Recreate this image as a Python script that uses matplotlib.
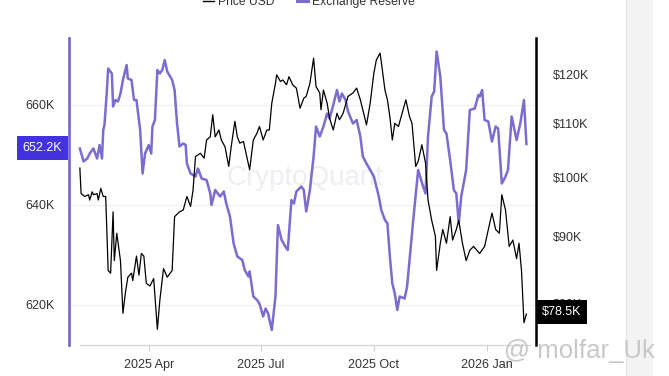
import matplotlib
matplotlib.use("Agg")
import matplotlib.pyplot as plt
import matplotlib.dates as mdates
from matplotlib.lines import Line2D
from matplotlib.patches import Rectangle
from matplotlib.ticker import FixedLocator, FixedFormatter, NullLocator
import pandas as pd

plt.rcParams['font.family'] = ['Liberation Sans', 'DejaVu Sans']

# ---------------- data ----------------
reserve_dates = [
    "2025-02-04", "2025-02-07", "2025-02-10", "2025-02-12", "2025-02-15", "2025-02-18", "2025-02-20",
    "2025-02-22", "2025-02-23", "2025-02-24", "2025-02-26", "2025-02-27", "2025-03-02", "2025-03-03",
    "2025-03-05", "2025-03-07", "2025-03-09", "2025-03-11", "2025-03-14", "2025-03-15", "2025-03-18",
    "2025-03-20", "2025-03-22", "2025-03-25", "2025-03-27", "2025-03-29", "2025-04-01", "2025-04-03",
    "2025-04-04", "2025-04-06", "2025-04-08", "2025-04-10", "2025-04-12", "2025-04-14", "2025-04-16",
    "2025-04-20", "2025-04-22", "2025-04-24", "2025-04-26", "2025-04-29", "2025-05-01", "2025-05-02",
    "2025-05-05", "2025-05-09", "2025-05-11", "2025-05-14", "2025-05-18", "2025-05-21", "2025-05-22",
    "2025-05-25", "2025-05-29", "2025-06-01", "2025-06-03", "2025-06-06", "2025-06-09", "2025-06-12",
    "2025-06-16", "2025-06-18", "2025-06-21", "2025-06-22", "2025-06-25", "2025-06-28", "2025-06-30",
    "2025-07-03", "2025-07-05", "2025-07-07", "2025-07-10", "2025-07-13", "2025-07-15", "2025-07-18",
    "2025-07-21", "2025-07-23", "2025-07-26", "2025-07-28", "2025-07-30", "2025-08-03", "2025-08-05",
    "2025-08-07", "2025-08-10", "2025-08-13", "2025-08-15", "2025-08-18", "2025-08-21", "2025-08-24",
    "2025-08-26", "2025-08-29", "2025-09-01", "2025-09-03", "2025-09-05", "2025-09-08", "2025-09-10",
    "2025-09-14", "2025-09-17", "2025-09-20", "2025-09-22", "2025-09-25", "2025-09-28", "2025-10-01",
    "2025-10-03", "2025-10-05", "2025-10-07", "2025-10-10", "2025-10-12", "2025-10-14", "2025-10-16",
    "2025-10-18", "2025-10-20", "2025-10-22", "2025-10-26", "2025-10-28", "2025-10-31", "2025-11-02",
    "2025-11-06", "2025-11-10", "2025-11-12", "2025-11-14", "2025-11-17", "2025-11-19", "2025-11-21",
    "2025-11-24", "2025-11-27", "2025-11-29", "2025-12-02", "2025-12-05", "2025-12-07", "2025-12-09",
    "2025-12-11", "2025-12-15", "2025-12-18", "2025-12-22", "2025-12-25", "2025-12-26", "2025-12-28",
    "2025-12-30", "2026-01-02", "2026-01-05", "2026-01-08", "2026-01-10", "2026-01-13", "2026-01-16",
    "2026-01-18", "2026-01-21", "2026-01-25", "2026-01-28", "2026-01-31", "2026-02-02",
]
reserve_k = [
    651.3, 648.7, 649.3, 650.3, 651.3, 649.3, 652.0,
    649.3, 655.0, 656.0, 663.0, 667.3, 666.3, 659.7,
    661.0, 660.7, 662.3, 665.0, 668.0, 665.3, 665.0,
    661.0, 661.0, 655.0, 646.3, 650.3, 652.0, 650.3,
    655.7, 657.0, 667.0, 666.3, 667.0, 669.0, 666.7,
    665.0, 663.0, 656.3, 651.7, 652.3, 652.0, 648.3,
    646.3, 645.7, 647.3, 645.3, 645.0, 642.3, 640.0,
    643.0, 641.7, 642.7, 640.3, 637.7, 632.3, 629.7,
    629.0, 627.0, 625.7, 626.7, 621.7, 621.0, 620.3,
    617.7, 619.3, 618.3, 615.0, 621.7, 636.0, 633.0,
    631.7, 631.0, 641.0, 640.3, 642.7, 643.7, 643.0,
    638.7, 643.0, 649.7, 655.7, 653.7, 655.7, 658.3,
    657.3, 660.0, 663.0, 660.7, 662.3, 661.0, 658.7,
    656.3, 657.0, 653.7, 649.7, 648.3, 647.0, 645.7,
    643.7, 641.7, 639.0, 637.0, 636.3, 629.7, 624.3,
    622.3, 619.0, 621.7, 621.3, 623.7, 631.7, 637.0,
    647.0, 643.7, 642.3, 653.7, 661.7, 662.7, 670.7,
    665.7, 655.0, 654.3, 649.0, 643.0, 642.3, 636.3,
    641.7, 647.0, 659.0, 659.3, 662.0, 661.7, 663.0,
    657.0, 656.7, 652.7, 655.7, 655.3, 644.3, 645.7,
    647.0, 657.7, 653.0, 656.3, 661.0, 652.2,
]

price_dates = [
    "2025-02-04", "2025-02-05", "2025-02-08", "2025-02-11", "2025-02-12", "2025-02-14", "2025-02-15",
    "2025-02-18", "2025-02-19", "2025-02-21", "2025-02-23", "2025-02-25", "2025-02-27", "2025-03-01",
    "2025-03-03", "2025-03-04", "2025-03-06", "2025-03-09", "2025-03-11", "2025-03-13", "2025-03-15",
    "2025-03-18", "2025-03-19", "2025-03-22", "2025-03-24", "2025-03-26", "2025-03-28", "2025-03-30",
    "2025-04-02", "2025-04-05", "2025-04-07", "2025-04-08", "2025-04-10", "2025-04-13", "2025-04-16",
    "2025-04-20", "2025-04-22", "2025-04-26", "2025-04-29", "2025-05-02", "2025-05-05", "2025-05-07",
    "2025-05-09", "2025-05-13", "2025-05-16", "2025-05-18", "2025-05-21", "2025-05-23", "2025-05-25",
    "2025-05-28", "2025-05-30", "2025-06-02", "2025-06-05", "2025-06-07", "2025-06-10", "2025-06-12",
    "2025-06-14", "2025-06-17", "2025-06-20", "2025-06-22", "2025-06-25", "2025-06-28", "2025-06-30",
    "2025-07-03", "2025-07-06", "2025-07-08", "2025-07-10", "2025-07-13", "2025-07-14", "2025-07-17",
    "2025-07-19", "2025-07-22", "2025-07-24", "2025-07-27", "2025-07-30", "2025-08-02", "2025-08-05",
    "2025-08-07", "2025-08-10", "2025-08-13", "2025-08-15", "2025-08-18", "2025-08-19", "2025-08-21",
    "2025-08-24", "2025-08-26", "2025-08-29", "2025-09-01", "2025-09-03", "2025-09-06", "2025-09-10",
    "2025-09-14", "2025-09-17", "2025-09-20", "2025-09-22", "2025-09-25", "2025-09-28", "2025-10-01",
    "2025-10-03", "2025-10-06", "2025-10-07", "2025-10-10", "2025-10-12", "2025-10-14", "2025-10-16",
    "2025-10-18", "2025-10-21", "2025-10-24", "2025-10-27", "2025-10-30", "2025-11-01", "2025-11-04",
    "2025-11-06", "2025-11-09", "2025-11-12", "2025-11-14", "2025-11-17", "2025-11-20", "2025-11-21",
    "2025-11-24", "2025-11-26", "2025-11-29", "2025-12-02", "2025-12-04", "2025-12-07", "2025-12-09",
    "2025-12-12", "2025-12-15", "2025-12-18", "2025-12-21", "2025-12-26", "2025-12-30", "2026-01-02",
    "2026-01-05", "2026-01-08", "2026-01-11", "2026-01-13", "2026-01-16", "2026-01-19", "2026-01-22",
    "2026-01-25", "2026-01-27", "2026-01-29", "2026-01-31", "2026-02-02",
]
price_k = [
    101.7, 97.2, 96.7, 97.0, 96.1, 97.5, 97.0,
    97.2, 96.1, 98.1, 96.7, 96.7, 84.8, 84.4,
    94.1, 86.3, 90.6, 86.3, 78.6, 81.5, 83.8,
    84.4, 83.3, 87.0, 84.1, 87.4, 87.0, 82.9,
    82.5, 83.6, 78.6, 76.4, 80.4, 85.1, 83.8,
    84.8, 93.3, 94.1, 94.4, 96.7, 95.0, 97.8,
    103.8, 104.4, 103.5, 106.9, 107.5, 111.8, 107.5,
    108.8, 106.9, 105.6, 102.0, 105.6, 110.5, 107.5,
    106.3, 106.6, 103.5, 101.4, 106.9, 108.2, 109.5,
    106.9, 108.8, 108.8, 114.1, 118.2, 120.0, 118.6,
    118.9, 117.9, 119.6, 117.9, 117.2, 113.1, 115.1,
    115.5, 118.2, 123.6, 117.5, 116.2, 112.8, 116.8,
    114.1, 111.1, 108.8, 112.1, 110.8, 112.1, 115.5,
    116.2, 117.2, 114.8, 112.8, 109.8, 114.1, 120.4,
    123.2, 124.7, 122.9, 116.8, 114.8, 111.4, 106.9,
    110.1, 109.5, 112.1, 114.8, 111.4, 110.1, 102.0,
    102.9, 106.0, 102.6, 96.1, 92.7, 90.1, 84.8,
    89.0, 91.2, 89.0, 93.3, 89.5, 91.2, 92.7,
    89.0, 86.3, 87.9, 88.5, 87.4, 88.5, 91.2,
    93.9, 91.2, 90.6, 97.0, 94.4, 88.5, 89.5,
    86.6, 89.0, 84.8, 77.3, 78.5,
]

x_tick_dates = ["2025-04-01", "2025-07-01", "2025-10-01", "2026-01-01"]
x_tick_labels = ["2025 Apr", "2025 Jul", "2025 Oct", "2026 Jan"]
left_ticks = [620, 640, 660]
left_tick_labels = ["620K", "640K", "660K"]
right_ticks = [80, 90, 100, 110, 120]
right_tick_labels = ["$80K", "$90K", "$100K", "$110K", "$120K"]
last_reserve_label = "652.2K"
last_price_label = "$78.5K"

# ---------------- styling ----------------
W, H = 669, 376
PURPLE = "#7b6cd0"
BOX_PURPLE = "#4333dc"
TXT = "#333333"

fig = plt.figure(figsize=(W / 100, H / 100), dpi=100)
fig.patch.set_facecolor("white")

# right grey strip
fig.add_artist(Rectangle((626 / W, 0), 27 / W, 1, transform=fig.transFigure,
                         facecolor="#f3f3f3", edgecolor="none", zorder=-5))
fig.add_artist(Line2D([626 / W, 626 / W], [0, 1], transform=fig.transFigure,
                      color="#e2e2e2", lw=0.8, zorder=-4))

ax = fig.add_axes([69 / W, 1 - 345 / H, (536 - 69) / W, (345 - 38) / H])
ax.set_facecolor("none")
ax2 = ax.twinx()

rd = pd.to_datetime(reserve_dates)
pdt = pd.to_datetime(price_dates)

ax.plot(rd, reserve_k, color=PURPLE, lw=1.8, zorder=3, solid_joinstyle="round")
ax2.plot(pdt, price_k, color="black", lw=0.9, zorder=3)

ax.set_xlim(pd.Timestamp("2025-01-26 04:00"), pd.Timestamp("2026-02-09 19:00"))
ax.set_ylim(612.0, 673.4)
ax2.set_yscale("log")
ax2.set_ylim(74.3, 128.1)

# grid on left axis ticks
for v in left_ticks:
    ax.axhline(v, color="#f0f0f0", lw=0.9, zorder=0)

# spines
for s in ["top", "right"]:
    ax.spines[s].set_visible(False)
for s in ["top", "left", "bottom"]:
    ax2.spines[s].set_visible(False)
ax.spines["left"].set_color(PURPLE)
ax.spines["left"].set_linewidth(2.0)
ax.spines["bottom"].set_color("#d5d5d5")
ax.spines["bottom"].set_linewidth(0.9)
ax.spines["bottom"].set_bounds(mdates.date2num(pd.Timestamp("2025-02-04")),
                               mdates.date2num(pd.Timestamp("2026-02-05")))
ax2.spines["right"].set_color("black")
ax2.spines["right"].set_linewidth(1.8)

# ticks
ax.xaxis.set_major_locator(FixedLocator([mdates.date2num(pd.Timestamp(d)) for d in x_tick_dates]))
ax.xaxis.set_major_formatter(FixedFormatter(x_tick_labels))
ax.tick_params(axis="x", length=4.3, color="#cfcfcf", width=0.8, pad=6, labelsize=9, labelcolor=TXT)
ax.yaxis.set_major_locator(FixedLocator(left_ticks))
ax.yaxis.set_major_formatter(FixedFormatter(left_tick_labels))
ax.tick_params(axis="y", length=0, pad=10.5, labelsize=9, labelcolor=TXT)

ax2.yaxis.set_major_locator(FixedLocator(right_ticks))
ax2.yaxis.set_major_formatter(FixedFormatter(right_tick_labels))
ax2.yaxis.set_minor_locator(NullLocator())
ax2.tick_params(axis="y", length=0, pad=12, labelsize=9, labelcolor=TXT)

# last value boxes
ax.annotate(last_reserve_label, xy=(0, reserve_k[-1]), xycoords=("axes fraction", "data"),
            xytext=(-7, -4), textcoords="offset pixels", ha="right", va="center",
            color="white", fontsize=9, zorder=10, annotation_clip=False,
            bbox=dict(boxstyle="square,pad=0.45", fc=BOX_PURPLE, ec="none"))
ax2.annotate(last_price_label, xy=(1, price_k[-1]), xycoords=("axes fraction", "data"),
             xytext=(6, 2), textcoords="offset pixels", ha="left", va="center",
             color="white", fontsize=9, zorder=10, annotation_clip=False,
             bbox=dict(boxstyle="square,pad=0.45", fc="black", ec="none"))

# watermarks
ax.text(305 / W, 1 - 178 / H, "CryptoQuant", transform=fig.transFigure, fontsize=20,
        color="#eeeef2", ha="center", va="center", zorder=0.5)
fig.text(579 / W, 1 - 351 / H, "@ molfar_Uk", fontsize=18.5, color="#c8c8c8",
         ha="center", va="center", zorder=20)

# legend (cut off at top)
handles = [Line2D([], [], color="black", lw=1.0), Line2D([], [], color=PURPLE, lw=2.2)]
fig.legend(handles, ["Price USD", "Exchange Reserve"], loc="center",
           bbox_to_anchor=(309 / W, 1 - 2 / H), ncol=2, frameon=False, fontsize=8.7,
           handlelength=0.9, handletextpad=0.35, columnspacing=1.9, labelcolor=TXT)

fig.savefig("out.png", dpi=100)
